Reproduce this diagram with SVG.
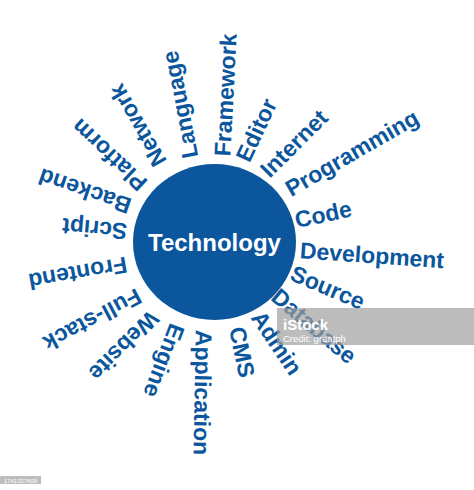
<svg xmlns="http://www.w3.org/2000/svg" width="474" height="490" viewBox="0 0 474 490">
<style>
.w{font-family:"Liberation Sans",Arial,sans-serif;font-weight:bold;font-size:23px;fill:#0b569c;}
.c{font-family:"Liberation Sans",Arial,sans-serif;font-weight:bold;font-size:24px;fill:#ffffff;}
.wm{font-family:"Liberation Sans",Arial,sans-serif;fill:#ffffff;}
</style>
<rect width="474" height="490" fill="#ffffff"/>
<g id="center">
<ellipse cx="214.5" cy="242" rx="81.5" ry="78" fill="#0b569c"/>
<text class="c" x="214.5" y="250.5" text-anchor="middle">Technology</text>
</g>
<g id="words">
<g id="n-framework"><text class="w" dy="0.36em" transform="translate(222,156) rotate(-87)">Framework</text></g>
<g id="n-language"><text class="w" dy="0.36em" transform="translate(190,158) rotate(-101)">Language</text></g>
<g id="n-network"><text class="w" dy="0.36em" transform="translate(160,165) rotate(-120)">Network</text></g>
<g id="n-platform"><text class="w" dy="0.36em" transform="translate(143,187) rotate(-137)">Platform</text></g>
<g id="n-backend"><text class="w" dy="0.36em" transform="translate(130,207) rotate(-161)">Backend</text></g>
<g id="n-script"><text class="w" dy="0.36em" transform="translate(127,232) rotate(-175)">Script</text></g>
<g id="n-frontend"><text class="w" dy="0.36em" transform="translate(127,265) rotate(170)">Frontend</text></g>
<g id="n-fullstack"><text class="w" dy="0.36em" transform="translate(140,295) rotate(152)">Full-stack</text></g>
<g id="n-website"><text class="w" dy="0.36em" transform="translate(155,315) rotate(135)">Website</text></g>
<g id="n-engine"><text class="w" dy="0.36em" transform="translate(178,325) rotate(111)">Engine</text></g>
<g id="n-application"><text class="w" dy="0.36em" transform="translate(204,330) rotate(91)">Application</text></g>
<g id="n-cms"><text class="w" dy="0.36em" transform="translate(237,327) rotate(78)">CMS</text></g>
<g id="n-admin"><text class="w" dy="0.36em" transform="translate(257,313) rotate(56)">Admin</text></g>
<g id="n-database"><text class="w" dy="0.36em" transform="translate(275,293) rotate(40)">Database</text></g>
<g id="n-source"><text class="w" dy="0.36em" transform="translate(292,272) rotate(23)">Source</text></g>
<g id="n-development"><text class="w" dy="0.36em" transform="translate(300,250) rotate(4)">Development</text></g>
<g id="n-code"><text class="w" dy="0.36em" transform="translate(295,220) rotate(-12)">Code</text></g>
<g id="n-programming"><text class="w" dy="0.36em" transform="translate(287,190) rotate(-30)">Programming</text></g>
<g id="n-internet"><text class="w" dy="0.36em" transform="translate(264,173) rotate(-45)">Internet</text></g>
<g id="n-editor"><text class="w" dy="0.36em" transform="translate(242,160) rotate(-65)">Editor</text></g>
</g>
<g id="connectors"></g>
<g id="watermark">
<rect x="277" y="308" width="197" height="37" fill="#a0a0a0" fill-opacity="0.7"/>
<text class="wm" x="283" y="330" font-size="15" font-weight="bold">iStock</text>
<text class="wm" x="283" y="342" font-size="9.5">Credit: greatph</text>
<rect x="0" y="476" width="41" height="8" fill="#bdbdbd"/>
<text class="wm" x="20.5" y="482.5" font-size="6" text-anchor="middle">1741327609</text>
</g>
</svg>
